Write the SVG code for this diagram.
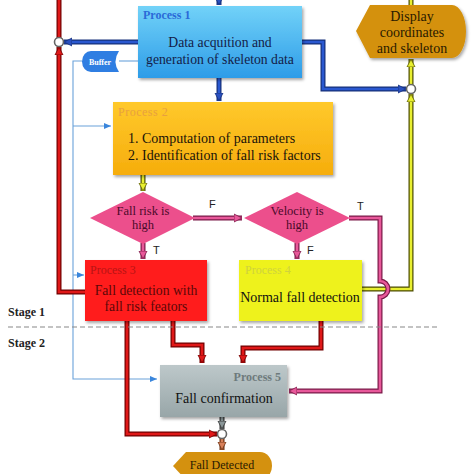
<svg xmlns="http://www.w3.org/2000/svg" width="474" height="474" viewBox="0 0 474 474">
<defs>
<linearGradient id="gBlue" x1="0" y1="0" x2="0" y2="1"><stop offset="0" stop-color="#72d2f8"/><stop offset="1" stop-color="#2d9ce8"/></linearGradient>
<linearGradient id="gGold" x1="0" y1="0" x2="0" y2="1"><stop offset="0" stop-color="#ffc92c"/><stop offset="1" stop-color="#f6ad0c"/></linearGradient>
<linearGradient id="gGray" x1="0" y1="0" x2="0" y2="1"><stop offset="0" stop-color="#bdc8ca"/><stop offset="1" stop-color="#98a6a8"/></linearGradient>
<filter id="sh" x="-10%" y="-10%" width="125%" height="130%"><feDropShadow dx="1.5" dy="2" stdDeviation="1.5" flood-color="#000" flood-opacity="0.35"/></filter>
<marker id="aBlue" markerUnits="userSpaceOnUse" markerWidth="10" markerHeight="10" refX="8" refY="5" orient="auto"><path d="M0,1 L8,5 L0,9 Z" fill="#2a50c0" stroke="#16307a" stroke-width="0.8"/></marker>
<marker id="aRed" markerUnits="userSpaceOnUse" markerWidth="10" markerHeight="10" refX="8" refY="5" orient="auto"><path d="M0,1 L8,5 L0,9 Z" fill="#e01818" stroke="#700000" stroke-width="0.8"/></marker>
<marker id="aYel" markerUnits="userSpaceOnUse" markerWidth="10" markerHeight="10" refX="8" refY="5" orient="auto"><path d="M0,1 L8,5 L0,9 Z" fill="#e8ef30" stroke="#5a5a00" stroke-width="0.8"/></marker>
<marker id="aPink" markerUnits="userSpaceOnUse" markerWidth="10" markerHeight="10" refX="8" refY="5" orient="auto"><path d="M0,1 L8,5 L0,9 Z" fill="#e8589a" stroke="#7a1a48" stroke-width="0.8"/></marker>
<marker id="aThin" markerUnits="userSpaceOnUse" markerWidth="8" markerHeight="8" refX="7" refY="4" orient="auto"><path d="M0,1 L7,4 L0,7 Z" fill="#3a86dc"/></marker>
<marker id="aGray" markerUnits="userSpaceOnUse" markerWidth="10" markerHeight="10" refX="8" refY="5" orient="auto"><path d="M0,1 L8,5 L0,9 Z" fill="#8a9698" stroke="#333" stroke-width="0.8"/></marker>
<marker id="aOr" markerUnits="userSpaceOnUse" markerWidth="10" markerHeight="10" refX="8" refY="5" orient="auto"><path d="M0,1 L8,5 L0,9 Z" fill="#d8805a" stroke="#6a3010" stroke-width="0.8"/></marker>
</defs>
<style>
.o{fill:none;stroke-linejoin:miter}
.red-o{stroke:#700000;stroke-width:5}
.red-i{stroke:#e01818;stroke-width:2.6}
.blu-o{stroke:#16307a;stroke-width:5}
.blu-i{stroke:#2a58d0;stroke-width:2.6}
.yel-o{stroke:#4a4a00;stroke-width:5}
.yel-i{stroke:#e8ef30;stroke-width:2.6}
.pnk-o{stroke:#7a1a48;stroke-width:5}
.pnk-i{stroke:#e8589a;stroke-width:2.6}
.thin{stroke:#6aa2da;stroke-width:1.1;fill:none}
.t{font-family:"Liberation Serif",serif;text-anchor:middle}
.lbl{font-family:"Liberation Serif",serif;font-weight:bold;font-size:12px}
.tf{font-family:"Liberation Sans",sans-serif;font-size:11px;fill:#222}
.j{fill:#fff;stroke:#666;stroke-width:1.6}
</style>

<g id="connectors">
<path class="thin" d="M119 61 H138"/>
<path class="thin" d="M82 61 H73 V379 H157" marker-end="url(#aThin)"/>
<path class="thin" d="M73 126 H111" marker-end="url(#aThin)"/>
<path class="thin" d="M73 275 H84" marker-end="url(#aThin)"/>
<path class="o red-o" d="M85 292 H59 V47"/>
<path class="o red-i" d="M85 292 H59 V47" marker-end="url(#aRed)"/>
<path class="o red-o" d="M59 38 V0"/>
<path class="o red-i" d="M59 38 V0"/>
<path class="o blu-o" d="M219 0 V5"/>
<path class="o blu-i" d="M219 0 V5" marker-end="url(#aBlue)"/>
<path class="o blu-o" d="M138 42 H64"/>
<path class="o blu-i" d="M138 42 H64" marker-end="url(#aBlue)"/>
<path class="o blu-o" d="M219 78 V101"/>
<path class="o blu-i" d="M219 78 V101" marker-end="url(#aBlue)"/>
<path class="o blu-o" d="M302 42 H323 V89 H406"/>
<path class="o blu-i" d="M302 42 H323 V89 H406" marker-end="url(#aBlue)"/>
<path class="o yel-o" d="M362 289 H411 V94"/>
<path class="o yel-i" d="M362 289 H411 V94" marker-end="url(#aYel)"/>
<path class="o yel-o" d="M411 85 V59"/>
<path class="o yel-i" d="M411 85 V59" marker-end="url(#aYel)"/>
<path class="o yel-o" d="M411 6 V0"/>
<path class="o yel-i" d="M411 6 V0"/>
<path class="o yel-o" d="M143 175 V191"/>
<path class="o yel-i" d="M143 175 V191" marker-end="url(#aYel)"/>
<path class="o pnk-o" d="M193 218 H242"/>
<path class="o pnk-i" d="M193 218 H242" marker-end="url(#aPink)"/>
<path class="o pnk-o" d="M143 243 V259"/>
<path class="o pnk-i" d="M143 243 V259" marker-end="url(#aPink)"/>
<path class="o pnk-o" d="M297 243 V259"/>
<path class="o pnk-i" d="M297 243 V259" marker-end="url(#aPink)"/>
<path class="o pnk-o" d="M349 218 H380 V281 A8 8 0 0 1 380 297 V391 H289"/>
<path class="o pnk-i" d="M349 218 H380 V281 A8 8 0 0 1 380 297 V391 H289" marker-end="url(#aPink)"/>
<path class="o red-o" d="M173 321 V345 H202 V363"/>
<path class="o red-i" d="M173 321 V345 H202 V363" marker-end="url(#aRed)"/>
<path class="o red-o" d="M127 321 V434 H217"/>
<path class="o red-i" d="M127 321 V434 H217" marker-end="url(#aRed)"/>
<path class="o red-o" d="M321 321 V348 H243 V363"/>
<path class="o red-i" d="M321 321 V348 H243 V363" marker-end="url(#aRed)"/>
<path class="o" stroke="#333" stroke-width="5" d="M222 417 V429"/>
<path class="o" stroke="#8a9698" stroke-width="2.6" d="M222 417 V429" marker-end="url(#aGray)"/>
<path class="o" stroke="#6a3010" stroke-width="5" d="M222 438 V450"/>
<path class="o" stroke="#d8805a" stroke-width="2.6" d="M222 438 V450" marker-end="url(#aOr)"/>
<circle class="j" cx="59" cy="42" r="4.5"/>
<circle class="j" cx="411" cy="89" r="4.5"/>
<circle class="j" cx="222" cy="434" r="4.5"/>
</g>

<g id="stage">
<line x1="8" y1="327" x2="440" y2="327" stroke="#888" stroke-width="1.2" stroke-dasharray="5,3"/>
<text class="lbl" x="8" y="316" fill="#222">Stage 1</text>
<text class="lbl" x="8" y="347" fill="#222">Stage 2</text>
</g>

<g id="process1">
<rect x="138" y="6" width="164" height="72" fill="url(#gBlue)" filter="url(#sh)"/>
<text x="143" y="19" font-family="Liberation Serif,serif" font-weight="bold" font-size="12" fill="#2a6ad8">Process 1</text>
<text class="t" x="220" y="47" font-size="13.7" fill="#141c48">Data acquition and</text>
<text class="t" x="220" y="64" font-size="13.7" fill="#141c48">generation of skeleton data</text>
</g>

<g id="buffer">
<path d="M91 51 H119 Q112 61.5 119 72 H91 A9 10.5 0 0 1 91 51 Z" fill="#2f7ee2"/>
<text x="100" y="65" font-family="Liberation Serif,serif" font-weight="bold" font-size="8" fill="#fff" text-anchor="middle">Buffer</text>
</g>

<g id="display">
<path d="M356 31 L370 5 H452 A14 26.5 0 0 1 452 58 H370 Z" fill="#d4910f" filter="url(#sh)"/>
<text class="t" x="412" y="21" font-size="14" fill="#2a1a00">Display</text>
<text class="t" x="412" y="37" font-size="14" fill="#2a1a00">coordinates</text>
<text class="t" x="412" y="53" font-size="14" fill="#2a1a00">and skeleton</text>
</g>

<g id="process2">
<rect x="113" y="102" width="220" height="73" fill="url(#gGold)" filter="url(#sh)"/>
<text x="118" y="116" font-family="Liberation Serif,serif" font-size="12" fill="#e8a040" letter-spacing="0.5">Process 2</text>
<text x="128" y="143" font-family="Liberation Serif,serif" font-size="14" fill="#1a1408">1. Computation of parameters</text>
<text x="128" y="160" font-family="Liberation Serif,serif" font-size="14" fill="#1a1408">2. Identification of fall risk factors</text>
</g>

<g id="decision1">
<polygon points="143,192 195,218 143,244 90,218" fill="#ec4f8c"/>
<text class="t" x="143" y="215" font-size="12.5" fill="#4a0a2a">Fall risk is</text>
<text class="t" x="143" y="229" font-size="12.5" fill="#4a0a2a">high</text>
</g>
<text class="tf" x="209" y="208">F</text>
<text class="tf" x="153" y="254">T</text>

<g id="decision2">
<polygon points="297,192 350,218 297,244 244,218" fill="#ec4f8c"/>
<text class="t" x="297" y="215" font-size="12.5" fill="#4a0a2a">Velocity is</text>
<text class="t" x="297" y="229" font-size="12.5" fill="#4a0a2a">high</text>
</g>
<text class="tf" x="357" y="210">T</text>
<text class="tf" x="307" y="254">F</text>

<g id="process3">
<rect x="85" y="260" width="122" height="61" fill="#ff1a1a" filter="url(#sh)"/>
<text x="90" y="274" font-family="Liberation Serif,serif" font-size="12" fill="#b81414">Process 3</text>
<text class="t" x="146" y="295" font-size="13.7" fill="#5a0808">Fall detection with</text>
<text class="t" x="146" y="311" font-size="13.7" fill="#5a0808">fall risk feators</text>
</g>

<g id="process4">
<rect x="239" y="260" width="123" height="61" fill="#eef21c" filter="url(#sh)"/>
<text x="245" y="274" font-family="Liberation Serif,serif" font-size="12" fill="#cfd33c">Process 4</text>
<text class="t" x="300" y="302" font-size="14" fill="#111">Normal fall detection</text>
</g>

<g id="process5">
<rect x="160" y="365" width="127" height="52" fill="url(#gGray)" filter="url(#sh)"/>
<text x="281" y="381" font-family="Liberation Serif,serif" font-weight="bold" font-size="12" fill="#6e7a7c" text-anchor="end">Process 5</text>
<text class="t" x="224" y="403" font-size="14" fill="#111">Fall confirmation</text>
</g>

<g id="falldetected">
<path d="M173 466 L186 452 H260 A12 14 0 0 1 260 480 H186 Z" fill="#d4910f"/>
<text class="t" x="222" y="469" font-size="12" fill="#2a1a00">Fall Detected</text>
</g>
</svg>
